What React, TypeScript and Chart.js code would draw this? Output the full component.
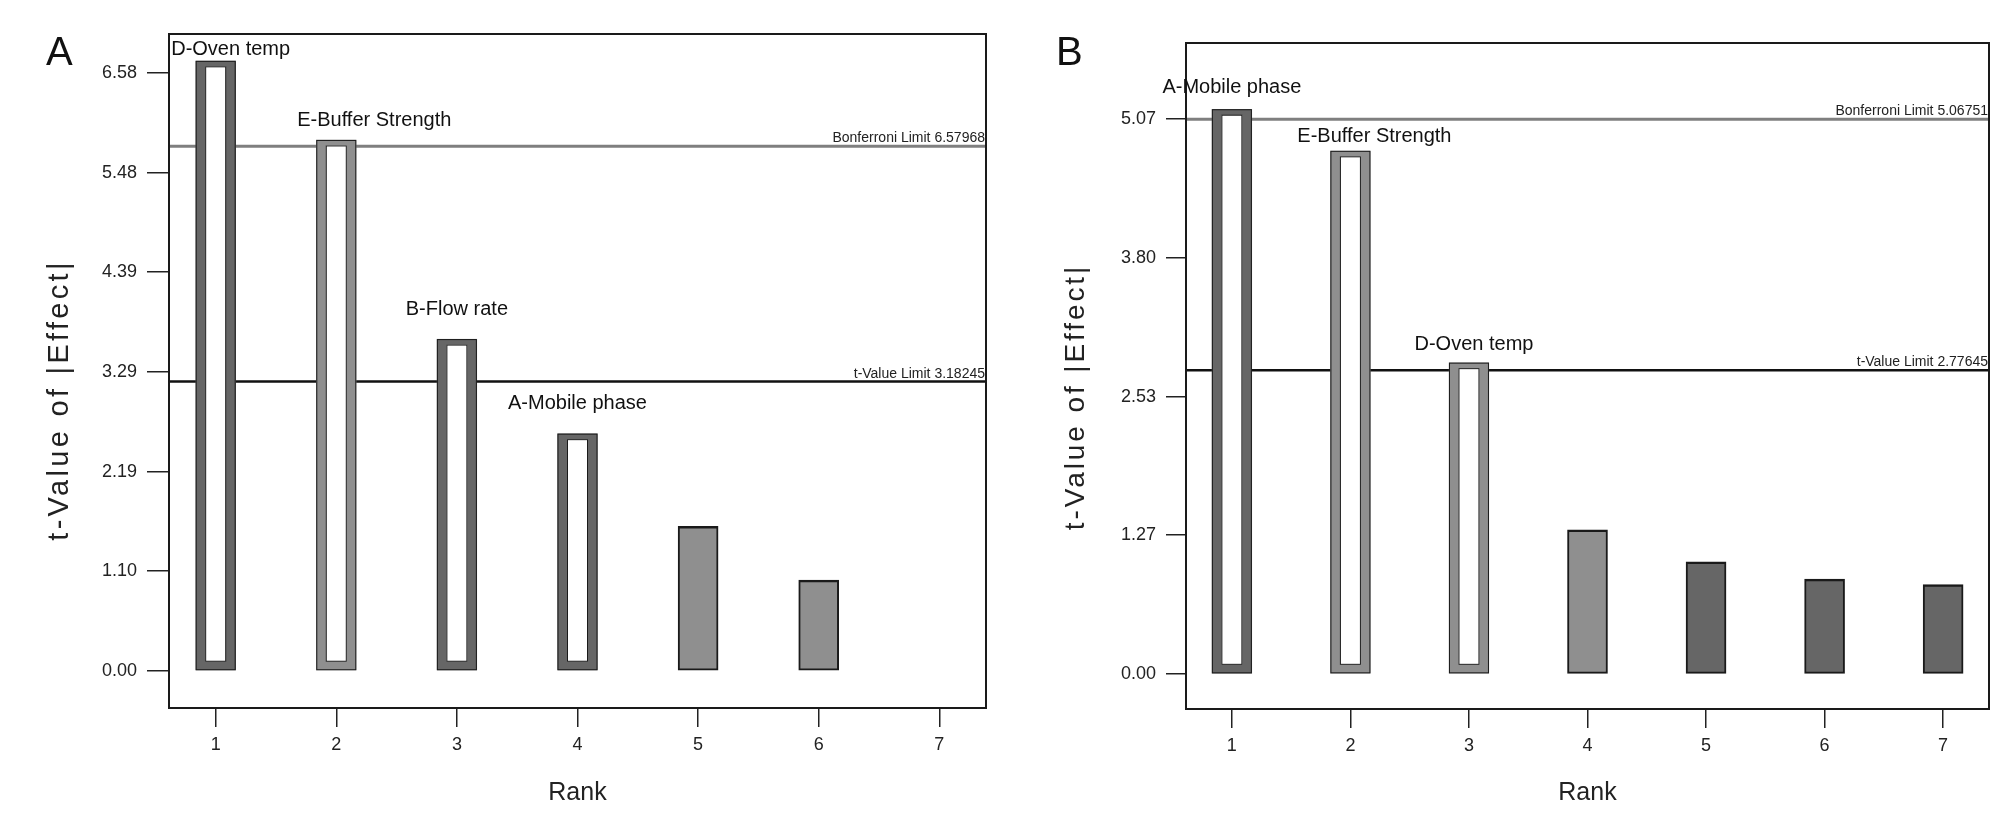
import React, { useEffect, useRef } from "react";
import { Chart, registerables } from "chart.js";

Chart.register(...registerables);

const FONT = '"Liberation Sans", Arial, Helvetica, sans-serif';

// ---------- shared ----------
const rankTicks = [1, 2, 3, 4, 5, 6, 7];

// ---------- Panel A ----------
const ranksA = [1, 2, 3, 4, 5, 6];
const valuesA = [6.71, 5.84, 3.65, 2.61, 1.59, 1.0];
const termsA = ["D-Oven temp", "E-Buffer Strength", "B-Flow rate", "A-Mobile phase", "", ""];
const hollowA = [true, true, true, true, false, false];
const toneA = ["dark", "light", "dark", "dark", "light", "light"];
const yTicksA = [0.0, 1.1, 2.19, 3.29, 4.39, 5.48, 6.58];
const tLimitA = 3.18245;
const bonfLimitA = 6.57968;
const bonfLineA = 5.77; // height at which the figure draws the Bonferroni line

// ---------- Panel B ----------
const ranksB = [1, 2, 3, 4, 5, 6, 7];
const valuesB = [5.16, 4.78, 2.845, 1.317, 1.025, 0.867, 0.818];
const termsB = ["A-Mobile phase", "E-Buffer Strength", "D-Oven temp", "", "", "", ""];
const hollowB = [true, true, true, false, false, false, false];
const toneB = ["dark", "light", "light", "light", "dark", "dark", "dark"];
const yTicksB = [0.0, 1.27, 2.53, 3.8, 5.07];
const tLimitB = 2.77645;
const bonfLimitB = 5.06751;
const bonfLineB = 5.06751;

const DARK = "#666666";
const LIGHT = "#8f8f8f";
const INK = "#1a1a1a";

const panelA = {
  letter: "A",
  ranks: ranksA, values: valuesA, terms: termsA, hollow: hollowA, tone: toneA, yTicks: yTicksA,
  tLimit: tLimitA, bonfLimit: bonfLimitA, bonfLine: bonfLineA,
  yMin: -0.407, yMax: 7.005,
  canvasLeft: 0, canvasWidth: 1004,
  padTop: 34, padRight: 18, yWidth: 169, xHeight: 112, yTickLen: 22,
  labelDx: [15, 38, 0, 0], labelDy: [-11, -19, -30, -30],
  letterX: 46, titleX: 60, titleY: 400, titleSize: 29, titleSpacing: 3.3,
};

const panelB = {
  letter: "B",
  ranks: ranksB, values: valuesB, terms: termsB, hollow: hollowB, tone: toneB, yTicks: yTicksB,
  tLimit: tLimitB, bonfLimit: bonfLimitB, bonfLine: bonfLineB,
  yMin: -0.319, yMax: 5.765,
  canvasLeft: 1004, canvasWidth: 1005,
  padTop: 43, padRight: 20, yWidth: 182, xHeight: 111, yTickLen: 20,
  labelDx: [0, 24, 5], labelDy: [-22, -14, -18],
  letterX: 52, titleX: 72, titleY: 397, titleSize: 28, titleSpacing: 2.9,
};

function EffectChart({ p }: { p: any }) {
  const ref = useRef<HTMLCanvasElement>(null);

  useEffect(() => {
    const canvas = ref.current!;
    const HB = { left: 10, right: 10, top: 6, bottom: 9 };

    const overlay = {
      id: "overlay",
      beforeDatasetsDraw(chart: any) {
        const { ctx, chartArea: a, scales } = chart;
        const y = scales.y;
        ctx.save();
        const yb = y.getPixelForValue(p.bonfLine);
        ctx.strokeStyle = "#7f7f7f";
        ctx.lineWidth = 3;
        ctx.beginPath();
        ctx.moveTo(a.left, yb);
        ctx.lineTo(a.right, yb);
        ctx.stroke();
        const yt = y.getPixelForValue(p.tLimit);
        ctx.strokeStyle = "#111";
        ctx.lineWidth = 2.5;
        ctx.beginPath();
        ctx.moveTo(a.left, yt);
        ctx.lineTo(a.right, yt);
        ctx.stroke();
        ctx.font = `14px ${FONT}`;
        ctx.fillStyle = "#222";
        ctx.textAlign = "right";
        ctx.textBaseline = "alphabetic";
        ctx.fillText(`Bonferroni Limit ${p.bonfLimit.toFixed(5)}`, a.right - 1, yb - 4);
        ctx.fillText(`t-Value Limit ${p.tLimit.toFixed(5)}`, a.right - 1, yt - 4);
        ctx.restore();
      },
      afterDatasetsDraw(chart: any) {
        const { ctx } = chart;
        const meta = chart.getDatasetMeta(0);
        ctx.save();
        ctx.strokeStyle = INK;
        ctx.lineWidth = 1;
        meta.data.forEach((el: any, i: number) => {
          if (!p.hollow[i]) return;
          const { x, y, base, width } = el.getProps(["x", "y", "base", "width"], true);
          const left = x - width / 2;
          const top = Math.min(y, base);
          const h = Math.abs(base - y);
          ctx.strokeRect(left + 0.5, top + 0.5, width - 1, h - 1);
          ctx.strokeRect(left + HB.left, top + HB.top, width - HB.left - HB.right, h - HB.top - HB.bottom);
        });
        ctx.restore();
      },
      afterDraw(chart: any) {
        const { ctx, chartArea: a } = chart;
        const meta = chart.getDatasetMeta(0);
        ctx.save();
        // frame
        ctx.strokeStyle = INK;
        ctx.lineWidth = 2;
        ctx.strokeRect(a.left, a.top, a.right - a.left, a.bottom - a.top);
        // term labels
        ctx.font = `20px ${FONT}`;
        ctx.fillStyle = "#111";
        ctx.textAlign = "center";
        ctx.textBaseline = "middle";
        meta.data.forEach((el: any, i: number) => {
          const t = p.terms[i];
          if (!t) return;
          const { x, y } = el.getProps(["x", "y"], true);
          ctx.fillText(t, x + (p.labelDx[i] || 0), y + (p.labelDy[i] || 0));
        });
        // panel letter
        ctx.font = `40px ${FONT}`;
        ctx.textAlign = "left";
        ctx.textBaseline = "alphabetic";
        ctx.fillText(p.letter, p.letterX, 65);
        // y title
        ctx.translate(p.titleX, p.titleY);
        ctx.rotate(-Math.PI / 2);
        ctx.font = `${p.titleSize}px ${FONT}`;
        (ctx as any).letterSpacing = `${p.titleSpacing}px`;
        ctx.fillStyle = "#222";
        ctx.textAlign = "center";
        ctx.textBaseline = "middle";
        ctx.fillText("t-Value of |Effect|", 0, 0);
        ctx.restore();
      },
    };

    const chart = new Chart(canvas, {
      type: "bar",
      data: {
        datasets: [
          {
            data: p.ranks.map((r: number, i: number) => ({ x: r, y: p.values[i] })),
            barThickness: 40,
            borderSkipped: false,
            backgroundColor: (c: any) =>
              p.hollow[c.dataIndex] ? "#ffffff" : p.tone[c.dataIndex] === "dark" ? DARK : LIGHT,
            borderColor: (c: any) =>
              p.hollow[c.dataIndex] ? (p.tone[c.dataIndex] === "dark" ? DARK : LIGHT) : INK,
            borderWidth: (c: any) =>
              p.hollow[c.dataIndex] ? HB : { left: 2, right: 2, top: 2.5, bottom: 2 },
          } as any,
        ],
      },
      options: {
        animation: false,
        responsive: false,
        devicePixelRatio: 1,
        layout: { padding: { top: p.padTop, right: p.padRight, left: 0, bottom: 0 } },
        plugins: { legend: { display: false }, tooltip: { enabled: false } },
        scales: {
          x: {
            type: "linear",
            bounds: "data",
            offset: false,
            min: 0.613,
            max: 7.387,
            afterBuildTicks: (s: any) => {
              s.ticks = rankTicks.map((v) => ({ value: v }));
            },
            grid: { offset: false, drawOnChartArea: false, drawTicks: true, tickLength: 19, color: "#222", lineWidth: 1.5 },
            border: { display: false },
            ticks: {
              padding: 7,
              color: "#222",
              font: { family: FONT, size: 18 },
              autoSkip: false,
              maxRotation: 0,
              callback: (v: any) => String(v),
            },
            title: {
              display: true,
              text: "Rank",
              color: "#222",
              font: { family: FONT, size: 25 },
              padding: { top: 0, bottom: 12 },
            },
            afterFit: (s: any) => {
              s.height = p.xHeight;
            },
          },
          y: {
            type: "linear",
            bounds: "data",
            min: p.yMin,
            max: p.yMax,
            afterBuildTicks: (s: any) => {
              s.ticks = p.yTicks.map((v: number) => ({ value: v }));
            },
            grid: { drawOnChartArea: false, drawTicks: true, tickLength: p.yTickLen, color: "#222", lineWidth: 1.5 },
            border: { display: false },
            ticks: {
              padding: 10,
              color: "#222",
              font: { family: FONT, size: 18 },
              autoSkip: false,
              callback: (v: any) => Number(v).toFixed(2),
            },
            afterFit: (s: any) => {
              s.width = p.yWidth;
            },
          },
        },
      } as any,
      plugins: [overlay],
    });
    return () => chart.destroy();
  }, []);

  return (
    <canvas
      ref={ref}
      width={p.canvasWidth}
      height={820}
      style={{ position: "absolute", left: p.canvasLeft, top: 0, width: p.canvasWidth, height: 820 }}
    />
  );
}

export default function App() {
  return (
    <div style={{ position: "absolute", left: 0, top: 0, width: 2009, height: 820, background: "#ffffff", overflow: "hidden" }}>
      <EffectChart p={panelA} />
      <EffectChart p={panelB} />
    </div>
  );
}
